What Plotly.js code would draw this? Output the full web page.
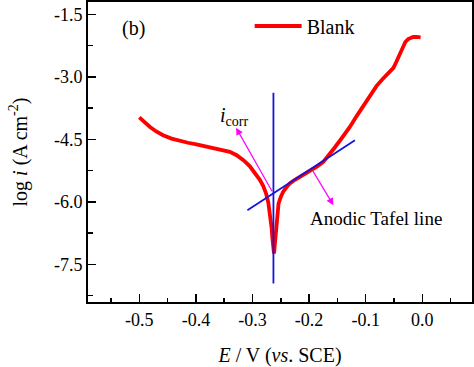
<!DOCTYPE html>
<html>
<head>
<meta charset="utf-8">
<script src="https://cdn.plot.ly/plotly-3.0.1.min.js"></script>
<style>html,body{margin:0;padding:0;background:#fff;}#chart{width:474px;height:367px;}</style>
</head>
<body>
<div id="chart"></div>
<script>
// Polarization curve (Blank)
var potential = [-0.500, -0.490, -0.481, -0.470, -0.458, -0.443, -0.428, -0.414, -0.399, -0.384, -0.369, -0.355, -0.340, -0.328, -0.316, -0.305, -0.293, -0.287, -0.281, -0.276, -0.272, -0.268, -0.266, -0.265, -0.264, -0.263, -0.262,
                 -0.261, -0.260, -0.259, -0.258, -0.256, -0.254, -0.250, -0.246, -0.240, -0.234, -0.225, -0.216, -0.205, -0.195, -0.185, -0.175, -0.165, -0.155, -0.145, -0.134, -0.128, -0.116, -0.104, -0.092, -0.081, -0.070, -0.060, -0.051, -0.046, -0.042, -0.038, -0.034, -0.030, -0.025, -0.020, -0.016, -0.010, -0.003];
var logCurrent = [-3.97, -4.10, -4.20, -4.31, -4.40, -4.48, -4.54, -4.58, -4.62, -4.66, -4.70, -4.74, -4.80, -4.88, -5.00, -5.14, -5.34, -5.47, -5.62, -5.80, -6.02, -6.40, -6.65, -6.85, -7.05, -7.18, -7.24,
                  -7.10, -6.95, -6.75, -6.52, -6.25, -6.04, -5.88, -5.76, -5.65, -5.56, -5.47, -5.40, -5.32, -5.24, -5.14, -5.04, -4.88, -4.70, -4.52, -4.32, -4.20, -3.94, -3.68, -3.44, -3.22, -3.05, -2.92, -2.78, -2.64, -2.52, -2.38, -2.25, -2.16, -2.09, -2.05, -2.04, -2.04, -2.05];

// Corrosion-potential line and anodic Tafel line
var corrLineX = [-0.263, -0.263];
var corrLineY = [-7.96, -3.38];
var tafelLineX = [-0.309, -0.119];
var tafelLineY = [-6.20, -4.52];

// Ticks
var xTickVals = [-0.5, -0.4, -0.3, -0.2, -0.1, 0.0];
var xTickText = ['-0.5', '-0.4', '-0.3', '-0.2', '-0.1', '0.0'];
var yTickVals = [-1.5, -3.0, -4.5, -6.0, -7.5];
var yTickText = ['-1.5', '-3.0', '-4.5', '-6.0', '-7.5'];

// Annotation anchors
var icorrArrow = {head: [-0.329, -4.22], tail: [-0.264, -5.78]};
var tafelArrow = {head: [-0.157, -6.08], tail: [-0.195, -5.22]};

var FONT = 'Liberation Serif, Times New Roman, serif';

var traces = [
  {x: potential, y: logCurrent, type: 'scatter', mode: 'lines', name: 'Blank',
   line: {color: '#ff0000', width: 3.8}},
  {x: corrLineX, y: corrLineY, type: 'scatter', mode: 'lines', showlegend: false,
   line: {color: '#1414dc', width: 1.8}},
  {x: tafelLineX, y: tafelLineY, type: 'scatter', mode: 'lines', showlegend: false,
   line: {color: '#1414dc', width: 1.8}}
];

var axisCommon = {
  showline: true, mirror: true, linecolor: '#000', linewidth: 2,
  showgrid: false, zeroline: false,
  ticks: 'inside', ticklen: 8, tickwidth: 1.5, tickcolor: '#000',
  tickfont: {family: FONT, size: 18, color: '#000'}
};

var layout = {
  width: 474, height: 367,
  margin: {l: 88, r: 2, t: 2, b: 65},
  paper_bgcolor: '#fff', plot_bgcolor: '#fff',
  font: {family: FONT, color: '#000'},
  xaxis: Object.assign({}, axisCommon, {
    range: [-0.5906, 0.0878],
    tickmode: 'array', tickvals: xTickVals, ticktext: xTickText,
    minor: {ticks: 'inside', dtick: 0.05, tick0: 0, ticklen: 4.5, tickwidth: 1.5, tickcolor: '#000'},
    title: {text: '<i>E</i> / V (<i>vs</i>. SCE)', font: {family: FONT, size: 20, color: '#000'}, standoff: 20}
  }),
  yaxis: Object.assign({}, axisCommon, {
    range: [-8.405, -1.2],
    tickmode: 'array', tickvals: yTickVals, ticktext: yTickText,
    minor: {ticks: 'inside', dtick: 0.75, tick0: -1.5, ticklen: 4.5, tickwidth: 1.5, tickcolor: '#000'},
    title: {text: 'log <i>i</i> (A cm<sup>-2</sup>)', font: {family: FONT, size: 20, color: '#000'}, standoff: 21}
  }),
  showlegend: true,
  legend: {x: 0.421, y: 0.985, xanchor: 'left', yanchor: 'top', bgcolor: 'rgba(0,0,0,0)',
           font: {family: FONT, size: 20, color: '#000'}, itemwidth: 47},
  annotations: [
    {x: -0.534, y: -1.836, xref: 'x', yref: 'y', text: '(b)', showarrow: false, xanchor: 'left',
     font: {family: FONT, size: 20, color: '#000'}},
    {x: -0.333, y: -3.95, xref: 'x', yref: 'y', text: '<i>i</i><sub>corr</sub>', showarrow: false,
     font: {family: FONT, size: 20, color: '#000'}},
    {x: -0.202, y: -6.41, xref: 'x', yref: 'y', text: 'Anodic Tafel line', showarrow: false, xanchor: 'left',
     font: {family: FONT, size: 19, color: '#000'}},
    {x: icorrArrow.head[0], y: icorrArrow.head[1], ax: icorrArrow.tail[0], ay: icorrArrow.tail[1],
     xref: 'x', yref: 'y', axref: 'x', ayref: 'y', text: '', showarrow: true,
     arrowhead: 2, arrowsize: 1.2, arrowwidth: 1.2, arrowcolor: '#ff00ff'},
    {x: tafelArrow.head[0], y: tafelArrow.head[1], ax: tafelArrow.tail[0], ay: tafelArrow.tail[1],
     xref: 'x', yref: 'y', axref: 'x', ayref: 'y', text: '', showarrow: true,
     arrowhead: 2, arrowsize: 1.2, arrowwidth: 1.2, arrowcolor: '#ff00ff'}
  ]
};

Plotly.newPlot('chart', traces, layout, {staticPlot: true, displayModeBar: false});
</script>
</body>
</html>
